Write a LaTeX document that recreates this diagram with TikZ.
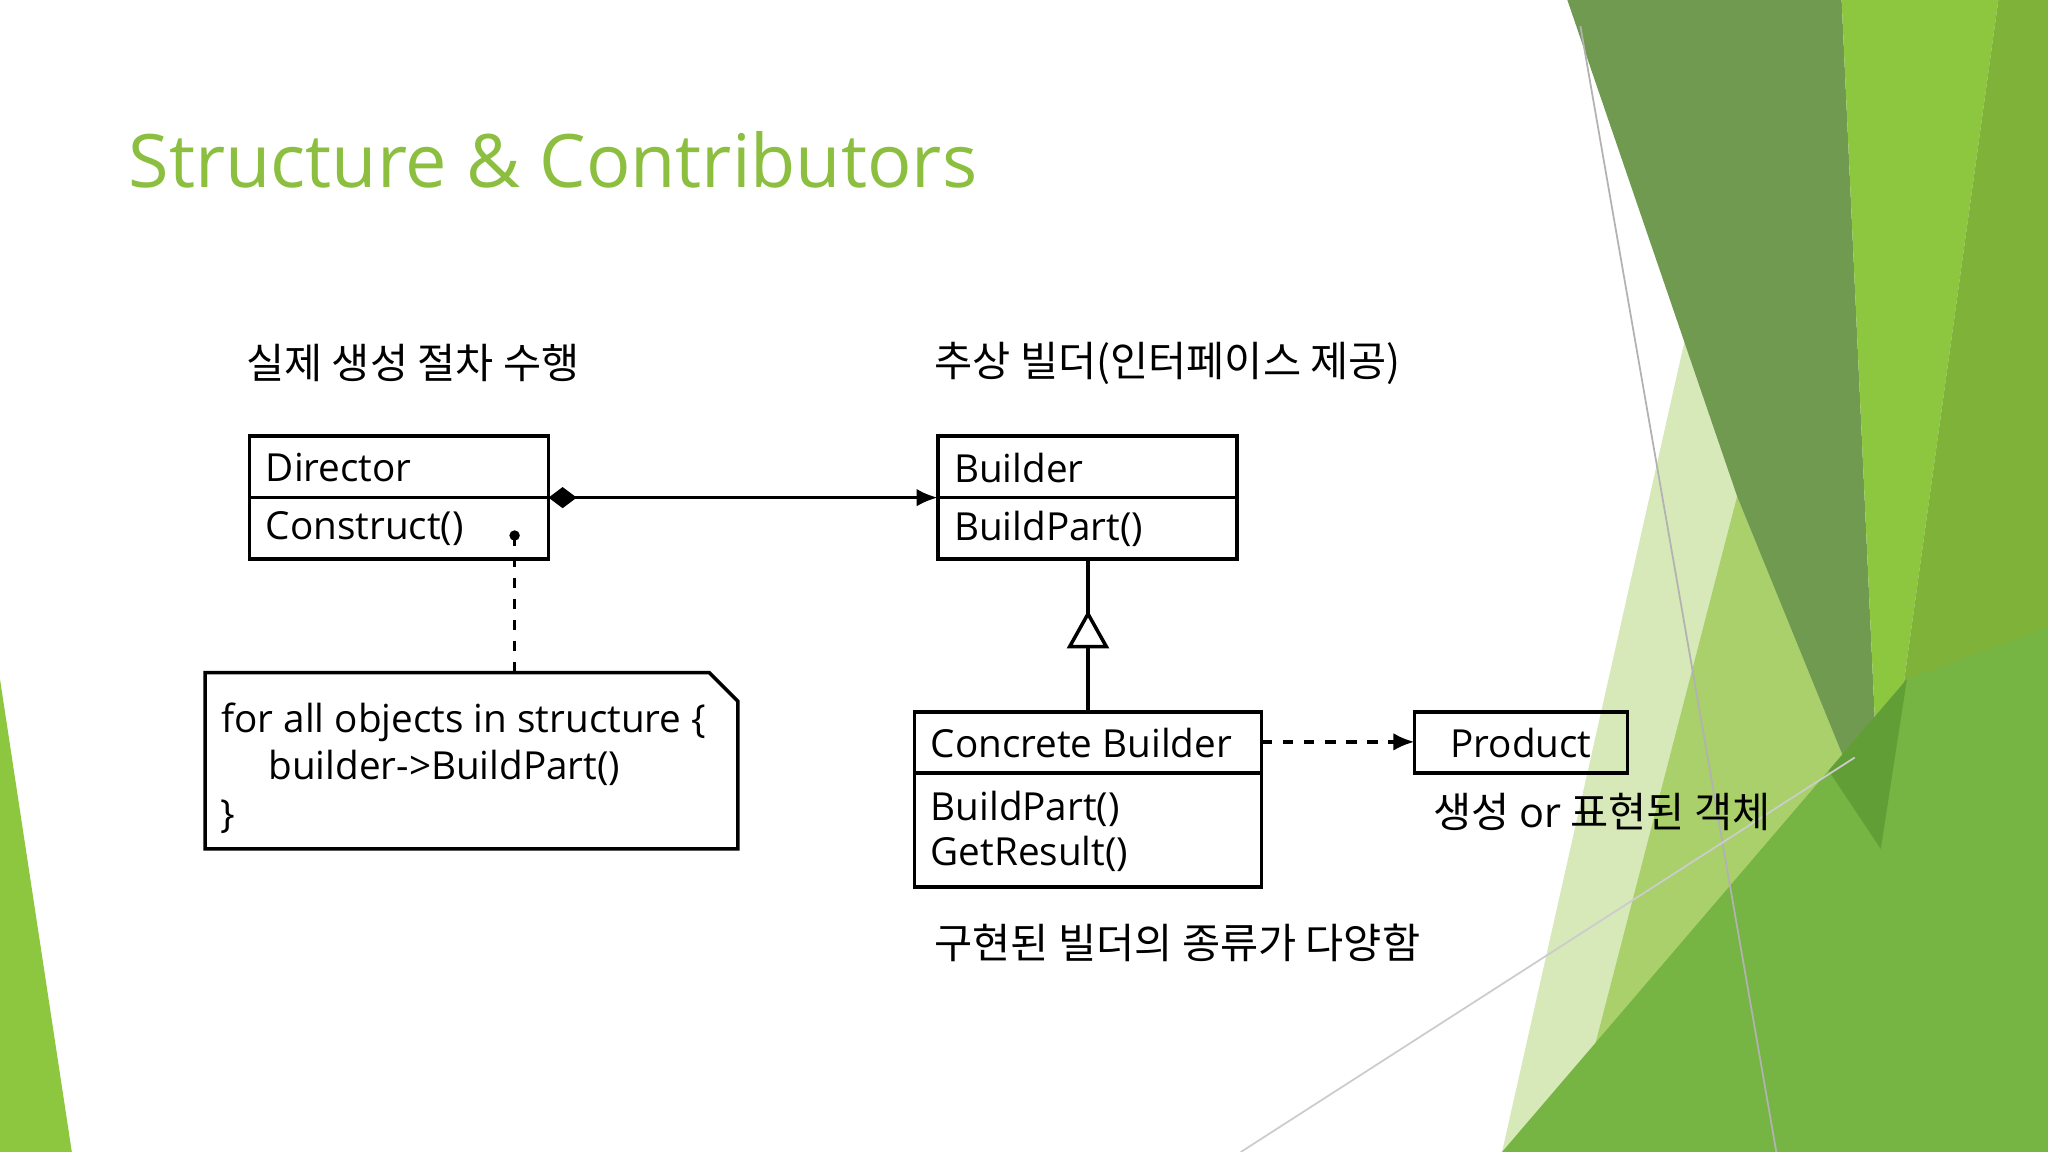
\documentclass[tikz,border=0pt]{standalone}
\usepackage{fontspec}
\setmainfont{Open Sans}
\newfontfamily\kr{Noto Sans CJK KR}
\usetikzlibrary{arrows.meta}
\definecolor{tgreen}{HTML}{8CBF3F}
\definecolor{olive}{HTML}{6F9A50}
\definecolor{bright}{HTML}{8DC63F}
\definecolor{pale}{HTML}{D7E9B8}
\definecolor{lgreen}{HTML}{A9D06A}
\definecolor{mgreen}{HTML}{76B443}
\definecolor{dgreen}{HTML}{4E8A2A}
\tikzset{
  cls/.style={draw,line width=1pt},
  lbl/.style={anchor=west,inner sep=0pt,font=\fontsize{11}{13}\selectfont},
  krl/.style={anchor=west,inner sep=0pt,font=\kr\fontsize{11.8}{14}\selectfont},
}
\begin{document}
\begin{tikzpicture}[x=0.01306cm,y=-0.01306cm]
\useasboundingbox (0,0) rectangle (1568,882);
% background decorations
\fill[pale] (1290,260) -- (1440,650) -- (1180,882) -- (1150,882) -- cycle;
\fill[lgreen] (1330,380) -- (1440,650) -- (1290,882) -- (1200,882) -- cycle;
\fill[olive] (1200,0) -- (1410,0) -- (1440,650) -- (1330,380) -- cycle;
\fill[bright] (1410,0) -- (1530,0) -- (1440,650) -- cycle;
\fill[bright!90!black] (1530,0) -- (1568,0) -- (1568,882) -- (1440,882) -- (1440,650) -- cycle;
\fill[mgreen] (1150,882) -- (1460,520) -- (1568,480) -- (1568,882) -- cycle;
\fill[dgreen,opacity=0.5] (1400,590) -- (1460,520) -- (1440,650) -- cycle;
\fill[bright] (0,520) -- (55,882) -- (0,882) -- cycle;
\draw[gray!60,line width=0.5pt] (1210,20) -- (1360,882);
\draw[gray!40,line width=0.5pt] (950,882) -- (1420,580);
% title
\node[anchor=west,inner sep=0pt,text=tgreen,font=\fontsize{21}{25}\selectfont] (title) at (98,122) {Structure \& Contributors};
% labels
\node[krl] (l1) at (188,278) {실제 생성 절차 수행};
\node[krl] (l2) at (715,278) {추상 빌더(인터페이스 제공)};
\node[krl] (l3) at (1097,622) {생성 {\fontspec{Open Sans}or} 표현된 객체};
\node[krl] (l4) at (715,722) {구현된 빌더의 종류가 다양함};
% Director
\draw[cls] (191,334) rectangle (420,428); \draw[cls] (191,381) -- (420,381);
\node[lbl] (dir) at (203,358) {Director};
\node[lbl] (con) at (203,405) {Construct()};
% Builder
\draw[cls] (718,334) rectangle (947,428); \draw[cls] (718,381) -- (947,381);
\node[lbl] (bld) at (730,358) {Builder};
\node[lbl] (bp) at (730,405) {BuildPart()};
\coordinate (dR) at (420,381); \coordinate (bL) at (718,381);
\draw[line width=1pt,{Diamond[length=8pt,width=6pt]}-{Latex[length=6pt,width=5pt]}] (dR) -- (bL);
% dot and note
\coordinate (dot) at (394,410); \coordinate (nt) at (394,515);
\fill (dot) circle (4);
\draw[line width=1pt,dashed] (dot) -- (nt);
\draw[cls] (157,515) -- (543,515) -- (565,537) -- (565,650) -- (157,650) -- cycle;
\node[lbl] (n1) at (169,553) {for all objects in structure \{};
\node[lbl] (n2) at (205,588) {builder->BuildPart()};
\node[lbl] (n3) at (168,625) {\}};
% inheritance
\coordinate (bB) at (833,428); \coordinate (tT) at (833,470); \coordinate (tB) at (833,495); \coordinate (cT) at (833,545);
\draw[line width=1pt] (bB) -- (tT);
\draw[line width=1pt] (tT) -- (847,495) -- (819,495) -- cycle;
\draw[line width=1pt] (tB) -- (cT);
% Concrete builder
\draw[cls] (700,545) rectangle (966,679); \draw[cls] (700,592) -- (966,592);
\node[lbl] (cb) at (712,569) {Concrete Builder};
\node[lbl] (cb1) at (712,619) {BuildPart()};
\node[lbl] (cb2) at (712,654) {GetResult()};
% product
\draw[cls] (1083,545) rectangle (1246,592);
\node[inner sep=0pt,font=\fontsize{11}{13}\selectfont] (prod) at (1164.5,569) {Product};
\coordinate (cR) at (966,568); \coordinate (pL) at (1083,568);
\draw[line width=1pt,dashed,-{Latex[length=6pt,width=5pt]}] (cR) -- (pL);
\end{tikzpicture}
\end{document}
